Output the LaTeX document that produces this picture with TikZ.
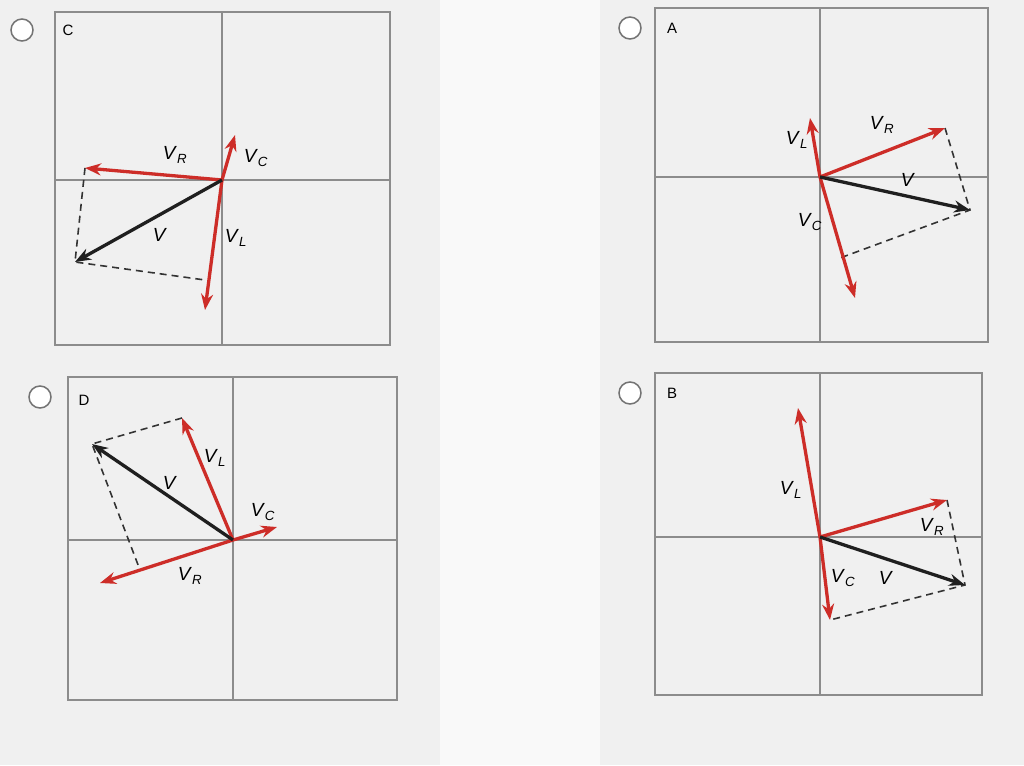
\documentclass[tikz,border=0pt]{standalone}
\usepackage{fontspec}
\setmainfont{Liberation Sans}
\usetikzlibrary{arrows.meta}
\definecolor{vred}{RGB}{205,45,40}
\definecolor{grid}{RGB}{140,140,140}
\newcommand{\vlab}[1]{\textit{V}\textsubscript{\textit{#1}}}
\tikzset{
  panel/.style={draw=grid,line width=1.6pt},
  axis/.style={draw=grid,line width=1.3pt},
  redv/.style={draw=vred,line width=3.3pt,-{Stealth[length=16pt,width=12pt]}},
  blackv/.style={draw=black!88,line width=3.3pt,-{Stealth[length=16pt,width=12pt]}},
  dashline/.style={draw=black!80,dash pattern=on 7pt off 5pt,line width=1.6pt},
  radio/.style={draw=black!55,line width=1.5pt,circle,minimum size=22pt,inner sep=0pt,fill=white},
  lbl/.style={font=\fontsize{15}{18}\selectfont,inner sep=1pt},
  vl/.style={font=\fontsize{19}{22}\selectfont,inner sep=1pt}
}
\begin{document}
\begin{tikzpicture}[x=1pt,y=-1pt]
\useasboundingbox (0,0) rectangle (1024,765);
\fill[gray!12] (0,0) rectangle (1024,765);
\fill[gray!5] (440,0) rectangle (600,765);
% ---------- C
\node[radio] (rc) at (22,30) {};
\node[lbl] (lc) at (68,30) {C};
\draw[panel] (55,12) rectangle (390,345);
\draw[axis] (222,12) -- (222,345);
\draw[axis] (55,180) -- (390,180);
\coordinate (oc) at (222,180);
\coordinate (cR) at (85,168);
\coordinate (cC) at (235,135);
\coordinate (cL) at (205,310);
\coordinate (cV) at (75,262);
\coordinate (cB) at (205,280);
\draw[dashline] (cR) -- (cV) -- (cB);
\draw[redv] (oc) -- (cR);
\draw[redv] (oc) -- (cC);
\draw[redv] (oc) -- (cL);
\draw[blackv] (oc) -- (cV);
\node[vl] (tcR) at (175,155) {\vlab{R}};
\node[vl] (tcC) at (256,158) {\vlab{C}};
\node[vl] (tcL) at (236,238) {\vlab{L}};
\node[vl] (tcV) at (160,235) {\textit{V}};
% ---------- A
\node[radio] (ra) at (630,28) {};
\node[lbl] (la) at (672,28) {A};
\draw[panel] (655,8) rectangle (988,342);
\draw[axis] (820,8) -- (820,342);
\draw[axis] (655,177) -- (988,177);
\coordinate (oa) at (820,177);
\coordinate (aL) at (810,118);
\coordinate (aR) at (945,128);
\coordinate (aC) at (855,298);
\coordinate (aV) at (970,210);
\coordinate (aB) at (840,258);
\draw[dashline] (aR) -- (aV) -- (aB);
\draw[redv] (oa) -- (aL);
\draw[redv] (oa) -- (aR);
\draw[redv] (oa) -- (aC);
\draw[blackv] (oa) -- (aV);
\node[vl] (taL) at (797,140) {\vlab{L}};
\node[vl] (taR) at (882,125) {\vlab{R}};
\node[vl] (taV) at (908,180) {\textit{V}};
\node[vl] (taC) at (810,222) {\vlab{C}};
% ---------- D
\node[radio] (rd) at (40,397) {};
\node[lbl] (ld) at (84,400) {D};
\draw[panel] (68,377) rectangle (397,700);
\draw[axis] (233,377) -- (233,700);
\draw[axis] (68,540) -- (397,540);
\coordinate (od) at (233,540);
\coordinate (dL) at (182,418);
\coordinate (dC) at (277,527);
\coordinate (dR) at (100,583);
\coordinate (dV) at (92,444);
\coordinate (dB) at (140,570);
\draw[dashline] (dL) -- (dV) -- (dB);
\draw[redv] (od) -- (dL);
\draw[redv] (od) -- (dC);
\draw[redv] (od) -- (dR);
\draw[blackv] (od) -- (dV);
\node[vl] (tdL) at (215,458) {\vlab{L}};
\node[vl] (tdV) at (170,483) {\textit{V}};
\node[vl] (tdC) at (263,512) {\vlab{C}};
\node[vl] (tdR) at (190,576) {\vlab{R}};
% ---------- B
\node[radio] (rb) at (630,393) {};
\node[lbl] (lb) at (672,393) {B};
\draw[panel] (655,373) rectangle (982,695);
\draw[axis] (820,373) -- (820,695);
\draw[axis] (655,537) -- (982,537);
\coordinate (ob) at (820,537);
\coordinate (bL) at (798,408);
\coordinate (bR) at (947,500);
\coordinate (bV) at (965,585);
\coordinate (bC) at (830,620);
\draw[dashline] (bR) -- (bV) -- (bC);
\draw[redv] (ob) -- (bL);
\draw[redv] (ob) -- (bR);
\draw[redv] (ob) -- (bC);
\draw[blackv] (ob) -- (bV);
\node[vl] (tbL) at (791,490) {\vlab{L}};
\node[vl] (tbR) at (932,527) {\vlab{R}};
\node[vl] (tbC) at (843,578) {\vlab{C}};
\node[vl] (tbV) at (886,578) {\textit{V}};
\end{tikzpicture}
\end{document}
